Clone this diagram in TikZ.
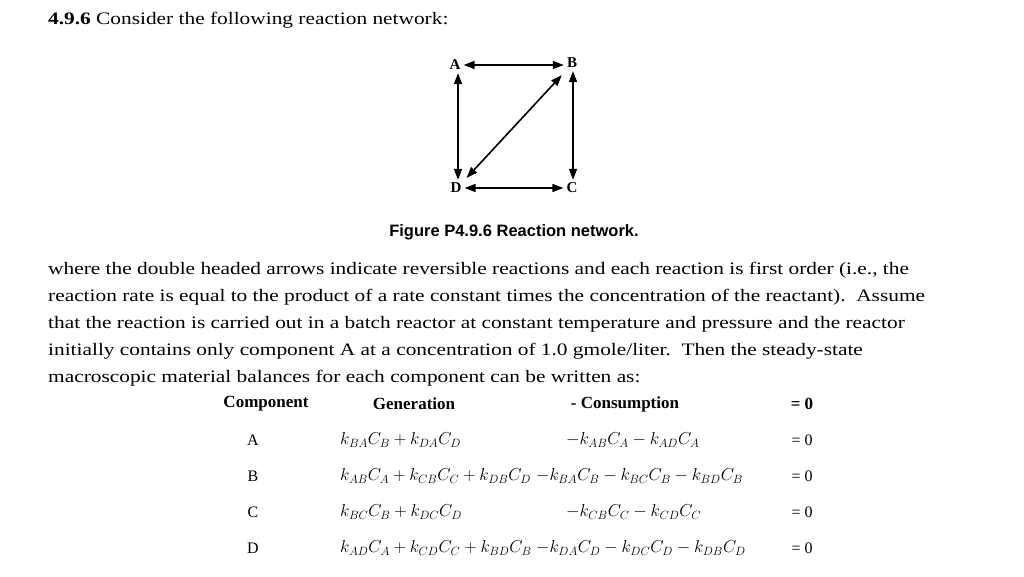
\documentclass[tikz,border=0pt]{standalone}
\usepackage{fontspec}
\setmainfont{Liberation Serif}
\newfontfamily\sans{Liberation Sans}
\newfontfamily\wide[FakeStretch=1.22]{Liberation Serif}
\usetikzlibrary{arrows.meta,calc}
\begin{document}
\begin{tikzpicture}[x=1pt,y=-1pt,
  lab/.style={font=\bfseries\fontsize{15}{17}\selectfont,inner sep=1pt},
  rx/.style={{Triangle[length=11pt,width=8pt]}-{Triangle[length=11pt,width=8pt]},line width=1.6pt},
  txt/.style={anchor=west,inner sep=0,font=\wide\fontsize{17.5}{20}\selectfont},
  hd/.style={inner sep=0,font=\bfseries\fontsize{17}{19}\selectfont},
  eq/.style={anchor=west,inner sep=0,font=\fontsize{17}{19}\selectfont}]
\useasboundingbox (0,0) rectangle (1024,576);
\node[txt] (t) at (48,20) {\textbf{4.9.6} Consider the following reaction network:};
\node[lab] (A) at (455,65) {A};
\node[lab] (B) at (572,63) {B};
\node[lab] (D) at (456,188) {D};
\node[lab] (C) at (572,188) {C};
\draw[rx] ($(A.east)+(2,0)$) -- ($(B.west)+(-2,2)$);
\draw[rx] ($(A.south)+(3,2)$) -- ($(D.north)+(2,-2)$);
\draw[rx] ($(B.south)+(1,2)$) -- ($(C.north)+(1,-2)$);
\draw[rx] ($(D.east)+(2,0)$) -- ($(C.west)+(-2,0)$);
\draw[rx] ($(B.south west)+(-4,6)$) -- ($(D.north east)+(4,-4)$);
\node[inner sep=0,font=\sans\bfseries\fontsize{16.5}{19}\selectfont] (cap) at (514,232) {Figure P4.9.6 Reaction network.};
\node[txt] (p1) at (48,270) {where the double headed arrows indicate reversible reactions and each reaction is first order (i.e., the};
\node[txt] (p2) at (48,297) {reaction rate is equal to the product of a rate constant times the concentration of the reactant).\ \ Assume};
\node[txt] (p3) at (48,324) {that the reaction is carried out in a batch reactor at constant temperature and pressure and the reactor};
\node[txt] (p4) at (48,351) {initially contains only component A at a concentration of 1.0 gmole/liter.\ \ Then the steady-state};
\node[txt] (p5) at (48,378) {macroscopic material balances for each component can be written as:};
\node[hd] (h1) at (266,404) {Component};
\node[hd] (h2) at (414,404) {Generation};
\node[hd] (h3) at (625,404) {- Consumption};
\node[hd] (h4) at (802,404) {= 0};
\foreach \n/\y in {A/440,B/476,C/512,D/548}{
  \node[inner sep=0,font=\fontsize{16}{19}\selectfont] (r\n) at (253,\y) {\n};
  \node[inner sep=0,font=\fontsize{16}{19}\selectfont] (z\n) at (802,\y) {= 0};
}
\node[eq] (gA) at (340,440) {$k_{BA}C_B+k_{DA}C_D$};
\node[eq] (gB) at (340,476) {$k_{AB}C_A+k_{CB}C_C+k_{DB}C_D$};
\node[eq] (gC) at (340,512) {$k_{BC}C_B+k_{DC}C_D$};
\node[eq] (gD) at (340,548) {$k_{AD}C_A+k_{CD}C_C+k_{BD}C_B$};
\node[eq] (cA) at (566,440) {$-k_{AB}C_A-k_{AD}C_A$};
\node[eq] (cB) at (536,476) {$-k_{BA}C_B-k_{BC}C_B-k_{BD}C_B$};
\node[eq] (cC) at (566,512) {$-k_{CB}C_C-k_{CD}C_C$};
\node[eq] (cD) at (536,548) {$-k_{DA}C_D-k_{DC}C_D-k_{DB}C_D$};
\end{tikzpicture}
\end{document}
